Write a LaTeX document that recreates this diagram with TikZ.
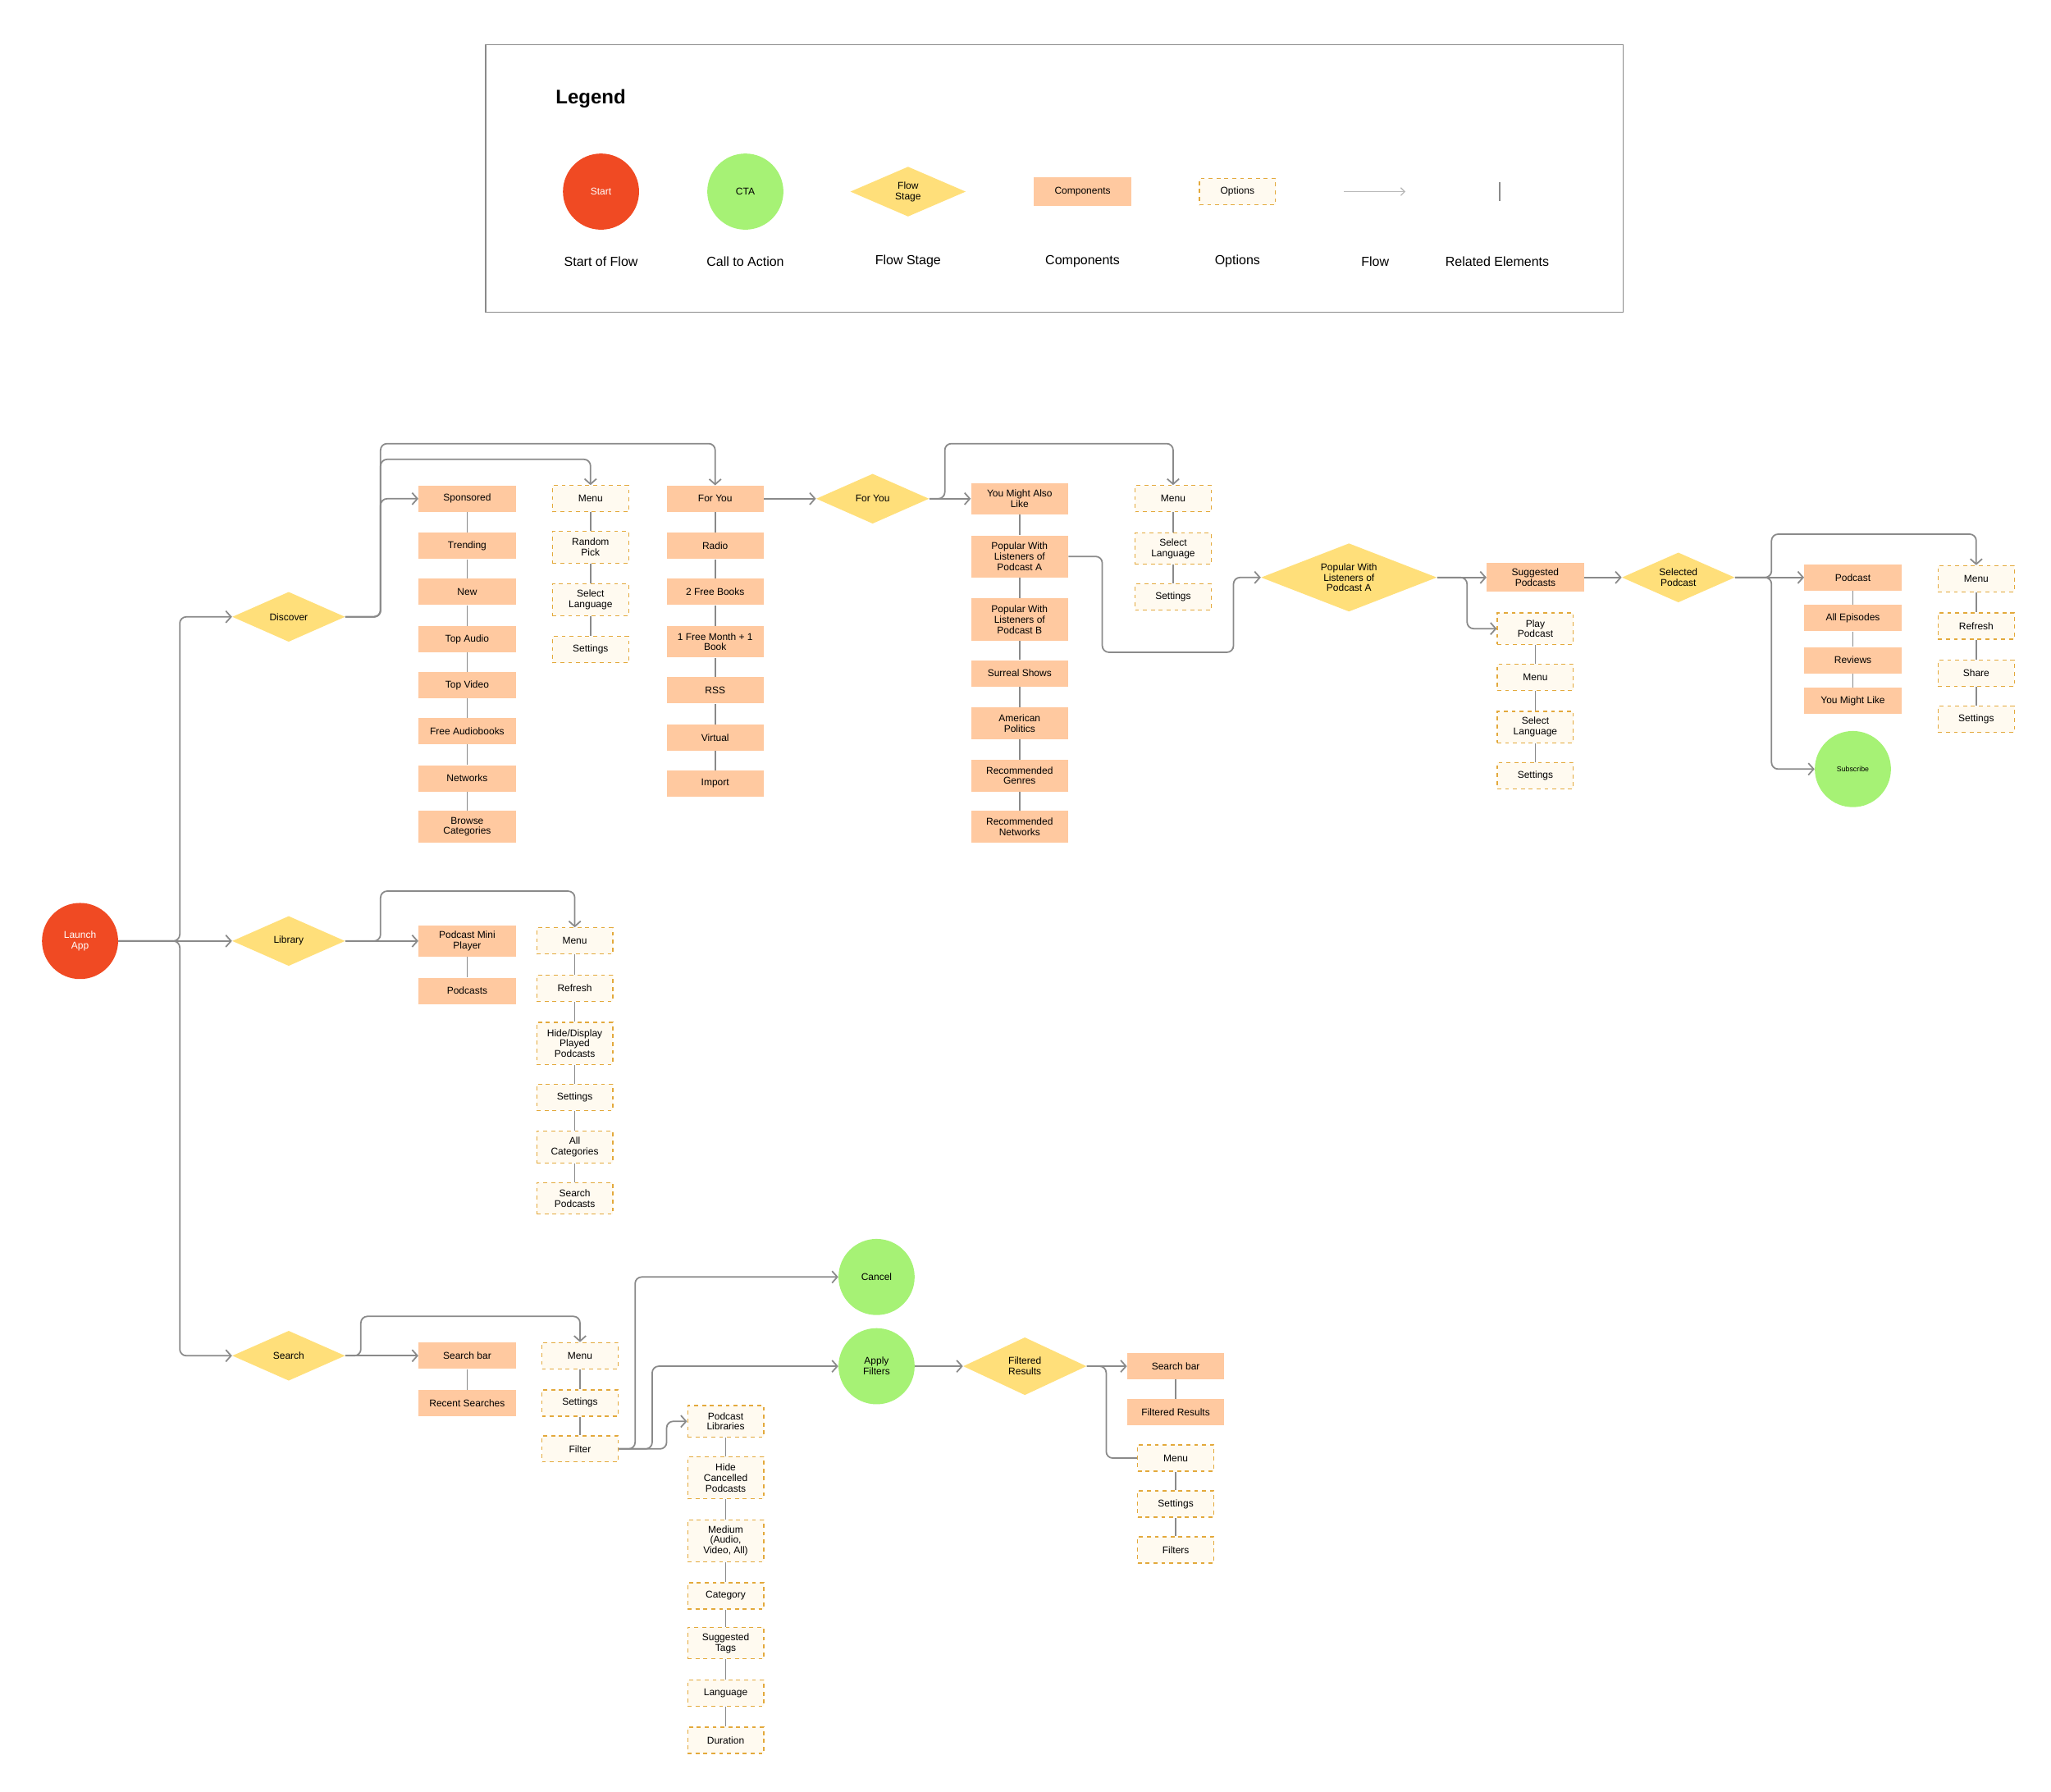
\documentclass[tikz,border=0pt]{standalone}
\usepackage{fontspec}
\setmainfont{Liberation Sans}
\usetikzlibrary{shapes.geometric,arrows.meta}
\definecolor{startc}{HTML}{F04A23}
\definecolor{ctac}{HTML}{A6F275}
\definecolor{stagec}{HTML}{FFDF7A}
\definecolor{compc}{HTML}{FFC9A0}
\definecolor{optf}{HTML}{FFFAF0}
\definecolor{optb}{HTML}{E3A93C}
\definecolor{linec}{HTML}{8A8A8A}
\newcommand{\nf}{\fontsize{7.5}{8}\selectfont}
\begin{document}
\begin{tikzpicture}[x=1pt,y=-1pt,
 comp/.style={rectangle,fill=compc,minimum width=74pt,minimum height=20pt,align=center,font=\nf,inner sep=1pt},
 opt/.style={rectangle,fill=optf,draw=optb,dashed,line width=0.8pt,minimum width=58pt,minimum height=20pt,align=center,font=\nf,inner sep=1pt},
 stage/.style={diamond,fill=stagec,minimum width=86pt,minimum height=38pt,inner sep=0pt},
 lbl/.style={font=\nf,align=center},
 cta/.style={circle,fill=ctac,minimum size=58pt,align=center,font=\nf,inner sep=0pt},
 st/.style={circle,fill=startc,minimum size=58pt,align=center,font=\nf,text=white,inner sep=0pt},
 flow/.style={draw=linec,line width=1.1pt,rounded corners=5pt},
 rel/.style={draw=linec,line width=1pt},
 arr/.style={flow,-{Straight Barb[length=4pt,width=9pt]}},
 capt/.style={font=\fontsize{10}{12}\selectfont}
]
\useasboundingbox (0,0) rectangle (1563,1365);
% Legend
\draw[linec,line width=1pt] (370,34) rectangle (1237,238);
\node[anchor=west,font=\fontsize{15}{18}\selectfont\bfseries] (lt) at (420,75) {Legend};
\node[st] (ls) at (458,146) {Start};
\node[cta] (lc) at (568,146) {CTA};
\node[stage,minimum width=88pt,label={[lbl]center:Flow\\Stage}] (lf) at (692,146) {};
\node[comp,minimum height=22pt] (lco) at (825,146) {Components};
\node[opt] (lo) at (943,146) {Options};
\coordinate (la1) at (1024,146); \coordinate (la2) at (1071,146);
\draw[draw=linec!60,line width=0.8pt,-{Straight Barb[length=3pt,width=6pt]}] (la1) -- (la2);
\coordinate (lr1) at (1143,139); \coordinate (lr2) at (1143,153);
\draw[rel] (lr1) -- (lr2);
\node[capt] (c1) at (458,199) {Start of Flow};
\node[capt] (c2) at (568,199) {Call to Action};
\node[capt] (c3) at (692,199) {Flow Stage};
\node[capt] (c4) at (825,199) {Components};
\node[capt] (c5) at (943,199) {Options};
\node[capt] (c6) at (1048,199) {Flow};
\node[capt] (c7) at (1141,199) {Related Elements};

% Main
\node[st] (launch) at (61,717) {Launch\\App};
\node[stage,label={[lbl]center:Discover}] (dis) at (220,470) {};
\node[stage,label={[lbl]center:Library}] (lib) at (220,717) {};
\node[stage,label={[lbl]center:Search}] (sea) at (220,1033) {};
\draw[arr] (launch.east) -- (137,717) -- (137,470) -- (dis.west);
\draw[arr] (launch.east) -- (lib.west);
\draw[arr] (launch.east) -- (137,717) -- (137,1033) -- (sea.west);

% Discover columns
\node[comp] (d1) at (356,380) {Sponsored};
\node[comp] (d2) at (356,416) {Trending};
\node[comp] (d3) at (356,451) {New};
\node[comp] (d4) at (356,487) {Top Audio};
\node[comp] (d5) at (356,522) {Top Video};
\node[comp] (d6) at (356,557) {Free Audiobooks};
\node[comp] (d7) at (356,593) {Networks};
\node[comp,minimum height=24pt] (d8) at (356,630) {Browse\\Categories};
\draw[rel] (d1)--(d2) (d2)--(d3) (d3)--(d4) (d4)--(d5) (d5)--(d6) (d6)--(d7) (d7)--(d8);
\node[opt] (m1) at (450,380) {Menu};
\node[opt,minimum height=24pt] (m2) at (450,417) {Random\\Pick};
\node[opt,minimum height=24pt] (m3) at (450,457) {Select\\Language};
\node[opt] (m4) at (450,495) {Settings};
\draw[rel] (m1)--(m2) (m2)--(m3) (m3)--(m4);
\node[comp] (f1) at (545,380) {For You};
\node[comp] (f2) at (545,416) {Radio};
\node[comp] (f3) at (545,451) {2 Free Books};
\node[comp,minimum height=24pt] (f4) at (545,489) {1 Free Month + 1\\Book};
\node[comp] (f5) at (545,526) {RSS};
\node[comp] (f6) at (545,562) {Virtual};
\node[comp] (f7) at (545,597) {Import};
\draw[rel] (f1)--(f2) (f2)--(f3) (f3)--(f4) (f4)--(f5) (f5)--(f6) (f6)--(f7);
\draw[arr] (dis.east) -- (290,470) -- (290,380) -- (d1.west);
\draw[arr] (dis.east) -- (290,470) -- (290,350) -- (450,350) -- (m1.north);
\draw[arr] (dis.east) -- (290,470) -- (290,338) -- (545,338) -- (f1.north);

% For You stage
\node[stage,label={[lbl]center:For You}] (fys) at (665,380) {};
\draw[arr] (f1.east) -- (fys.west);
\node[comp,minimum height=24pt] (y1) at (777,380) {You Might Also\\Like};
\node[comp,minimum height=32pt] (y2) at (777,424) {Popular With\\Listeners of\\Podcast A};
\node[comp,minimum height=32pt] (y3) at (777,472) {Popular With\\Listeners of\\Podcast B};
\node[comp] (y4) at (777,513) {Surreal Shows};
\node[comp,minimum height=24pt] (y5) at (777,551) {American\\Politics};
\node[comp,minimum height=24pt] (y6) at (777,591) {Recommended\\Genres};
\node[comp,minimum height=24pt] (y7) at (777,630) {Recommended\\Networks};
\draw[rel] (y1)--(y2) (y2)--(y3) (y3)--(y4) (y4)--(y5) (y5)--(y6) (y6)--(y7);
\node[opt] (n1) at (894,380) {Menu};
\node[opt,minimum height=24pt] (n2) at (894,418) {Select\\Language};
\node[opt] (n3) at (894,455) {Settings};
\draw[rel] (n1)--(n2) (n2)--(n3);
\draw[arr] (fys.east) -- (y1.west);
\draw[arr] (fys.east) -- (720,380) -- (720,338) -- (894,338) -- (n1.north);

% Popular A stage
\node[stage,minimum width=134pt,minimum height=52pt,label={[lbl]center:Popular With\\Listeners of\\Podcast A}] (pas) at (1028,440) {};
\draw[arr] (y2.east) -- (840,424) -- (840,497) -- (940,497) -- (940,440) -- (pas.west);
\node[comp,minimum height=22pt] (sp) at (1170,440) {Suggested\\Podcasts};
\node[opt,minimum height=24pt] (p1) at (1170,479) {Play\\Podcast};
\node[opt] (p2) at (1170,516) {Menu};
\node[opt,minimum height=24pt] (p3) at (1170,554) {Select\\Language};
\node[opt] (p4) at (1170,591) {Settings};
\draw[rel] (p1)--(p2) (p2)--(p3) (p3)--(p4);
\draw[arr] (pas.east) -- (sp.west);
\draw[arr] (pas.east) -- (1118,440) -- (1118,479) -- (p1.west);
\node[stage,label={[lbl]center:Selected\\Podcast}] (sel) at (1279,440) {};
\draw[arr] (sp.east) -- (sel.west);
\node[comp] (s1) at (1412,440) {Podcast};
\node[comp] (s2) at (1412,471) {All Episodes};
\node[comp] (s3) at (1412,503) {Reviews};
\node[comp] (s4) at (1412,534) {You Might Like};
\draw[rel] (s1)--(s2) (s2)--(s3) (s3)--(s4);
\node[opt] (o1) at (1506,441) {Menu};
\node[opt] (o2) at (1506,477) {Refresh};
\node[opt] (o3) at (1506,513) {Share};
\node[opt] (o4) at (1506,548) {Settings};
\draw[rel] (o1)--(o2) (o2)--(o3) (o3)--(o4);
\node[cta,font=\fontsize{5.5}{6}\selectfont] (sub) at (1412,586) {Subscribe};
\draw[arr] (sel.east) -- (s1.west);
\draw[arr] (sel.east) -- (1350,440) -- (1350,407) -- (1506,407) -- (o1.north);
\draw[arr] (sel.east) -- (1350,440) -- (1350,586) -- (sub.west);

% Library
\node[comp,minimum height=24pt] (l1) at (356,717) {Podcast Mini\\Player};
\node[comp] (l2) at (356,755) {Podcasts};
\draw[rel] (l1)--(l2);
\node[opt] (q1) at (438,717) {Menu};
\node[opt] (q2) at (438,753) {Refresh};
\node[opt,minimum height=32pt] (q3) at (438,795) {Hide/Display\\Played\\Podcasts};
\node[opt] (q4) at (438,836) {Settings};
\node[opt,minimum height=24pt] (q5) at (438,874) {All\\Categories};
\node[opt,minimum height=24pt] (q6) at (438,913) {Search\\Podcasts};
\draw[rel] (q1)--(q2) (q2)--(q3) (q3)--(q4) (q4)--(q5) (q5)--(q6);
\draw[arr] (lib.east) -- (l1.west);
\draw[arr] (lib.east) -- (290,717) -- (290,679) -- (438,679) -- (q1.north);

% Search
\node[comp] (r1) at (356,1033) {Search bar};
\node[comp] (r2) at (356,1069) {Recent Searches};
\draw[rel] (r1)--(r2);
\node[opt] (t1) at (442,1033) {Menu};
\node[opt] (t2) at (442,1069) {Settings};
\node[opt] (t3) at (442,1104) {Filter};
\draw[rel] (t1)--(t2) (t2)--(t3);
\draw[arr] (sea.east) -- (r1.west);
\draw[arr] (sea.east) -- (275,1033) -- (275,1003) -- (442,1003) -- (t1.north);
\node[cta] (can) at (668,973) {Cancel};
\node[cta] (app) at (668,1041) {Apply\\Filters};
\node[opt,minimum height=24pt] (u1) at (553,1083) {Podcast\\Libraries};
\node[opt,minimum height=32pt] (u2) at (553,1126) {Hide\\Cancelled\\Podcasts};
\node[opt,minimum height=32pt] (u3) at (553,1174) {Medium\\(Audio,\\Video, All)};
\node[opt] (u4) at (553,1216) {Category};
\node[opt,minimum height=24pt] (u5) at (553,1252) {Suggested\\Tags};
\node[opt] (u6) at (553,1290) {Language};
\node[opt] (u7) at (553,1326) {Duration};
\draw[rel] (u1)--(u2) (u2)--(u3) (u3)--(u4) (u4)--(u5) (u5)--(u6) (u6)--(u7);
\draw[arr] (t3.east) -- (484,1104) -- (484,973) -- (can.west);
\draw[arr] (t3.east) -- (497,1104) -- (497,1041) -- (app.west);
\draw[arr] (t3.east) -- (508,1104) -- (508,1083) -- (u1.west);
\node[stage,minimum width=94pt,minimum height=44pt,label={[lbl]center:Filtered\\Results}] (fr) at (781,1041) {};
\draw[arr] (app.east) -- (fr.west);
\node[comp] (v1) at (896,1041) {Search bar};
\node[comp] (v2) at (896,1076) {Filtered Results};
\draw[rel] (v1)--(v2);
\node[opt] (w1) at (896,1111) {Menu};
\node[opt] (w2) at (896,1146) {Settings};
\node[opt] (w3) at (896,1181) {Filters};
\draw[rel] (w1)--(w2) (w2)--(w3);
\draw[arr] (fr.east) -- (v1.west);
\draw[flow] (fr.east) -- (843,1041) -- (843,1111) -- (w1.west);
\end{tikzpicture}
\end{document}
